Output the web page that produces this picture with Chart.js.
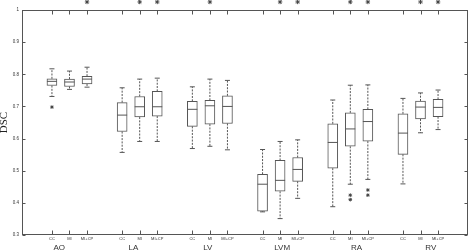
<!DOCTYPE html>
<html><head><meta charset="utf-8">
<script src="https://cdn.jsdelivr.net/npm/chart.js@4.4.0/dist/chart.umd.min.js"></script>
<style>html,body{margin:0;padding:0;background:#fff;}#wrap{width:474px;height:251px;}</style>
</head><body><div id="wrap"><canvas id="c" width="474" height="251"></canvas></div>
<script>
// ---- data (box order: group by group, CC / MI / MI+CP) ----
const groups = ['AO', 'LA', 'LV', 'LVM', 'RA', 'RV'];
const methods = ['CC', 'MI', 'MI+CP'];
const whiskerLow  = [0.731,0.753,0.760, 0.557,0.591,0.591, 0.569,0.576,0.565, 0.372,0.351,0.414, 0.388,0.458,0.473, 0.459,0.618,0.628];
const q1          = [0.765,0.762,0.770, 0.622,0.667,0.670, 0.638,0.645,0.647, 0.374,0.436,0.467, 0.508,0.576,0.592, 0.551,0.661,0.668];
const median      = [0.778,0.776,0.785, 0.673,0.699,0.699, 0.691,0.702,0.700, 0.458,0.470,0.504, 0.588,0.630,0.653, 0.617,0.698,0.697];
const q3          = [0.786,0.785,0.794, 0.712,0.731,0.747, 0.716,0.719,0.733, 0.489,0.532,0.541, 0.646,0.680,0.691, 0.677,0.717,0.722];
const whiskerHigh = [0.817,0.810,0.822, 0.758,0.785,0.788, 0.761,0.785,0.781, 0.566,0.591,0.596, 0.720,0.766,0.767, 0.725,0.742,0.751];
const outlierBox   = [0, 13, 13, 14, 14];
const outlierValue = [0.698, 0.424, 0.410, 0.440, 0.424];
const significantBoxes = [2, 4, 5, 7, 10, 11, 13, 14, 16, 17];
const yTickValues = [0.3, 0.4, 0.5, 0.6, 0.7, 0.8, 0.9, 1.0];
const markerLevel = 1.025;

// ---- derived ----
const boxPos = groups.flatMap((g, gi) => methods.map((m, mi) => gi * 4 + mi));
const groupPos = groups.map((g, gi) => gi * 4 + 1);
const lineColor = '#555';
const textColor = '#333';
const sans = "'Liberation Sans', Arial, sans-serif";

const whiskerData = [];
boxPos.forEach((p, i) => {
  whiskerData.push({x: p, y: q3[i]}, {x: p, y: whiskerHigh[i]}, {x: p, y: null});
  whiskerData.push({x: p, y: q1[i]}, {x: p, y: whiskerLow[i]}, {x: p, y: null});
});
const capData = boxPos.flatMap((p, i) => [{x: p, y: whiskerHigh[i]}, {x: p, y: whiskerLow[i]}]);

const framePlugin = {
  id: 'frame',
  afterDatasetsDraw(chart) {
    const {ctx, chartArea: a, scales: {x, y}} = chart;
    ctx.save();
    ctx.strokeStyle = lineColor;
    ctx.lineWidth = 1;
    const L = Math.round(a.left) + 0.5, R = Math.round(a.right) - 0.5;
    const T = Math.round(a.top) + 0.5, B = Math.round(a.bottom) - 0.5;
    ctx.strokeRect(L, T, R - L, B - T);
    ctx.beginPath();
    yTickValues.forEach(v => {
      const py = Math.round(y.getPixelForValue(v)) + 0.5;
      ctx.moveTo(L, py); ctx.lineTo(L + 3, py);
      ctx.moveTo(R, py); ctx.lineTo(R - 3, py);
    });
    boxPos.forEach(p => {
      const px = Math.round(x.getPixelForValue(p)) + 0.5;
      ctx.moveTo(px, B); ctx.lineTo(px, B - 4);
      ctx.moveTo(px, T); ctx.lineTo(px, T + 4);
    });
    ctx.stroke();
    // significance markers above the frame
    ctx.strokeStyle = '#444';
    ctx.fillStyle = '#444';
    significantBoxes.forEach(b => {
      Chart.helpers.drawPoint(ctx, {pointStyle: 'star', radius: 2.2, borderWidth: 1, rotation: 0},
        x.getPixelForValue(boxPos[b]), y.getPixelForValue(markerLevel));
    });
    ctx.restore();
  }
};

new Chart(document.getElementById('c'), {
  type: 'scatter',
  data: {
    datasets: [
      {
        type: 'bar',
        data: boxPos.map((p, i) => ({x: p, y: [q1[i], q3[i]]})),
        backgroundColor: '#ffffff',
        borderColor: lineColor,
        borderWidth: 1,
        borderSkipped: false,
        barThickness: 10,
        order: 3
      },
      {
        data: whiskerData,
        showLine: true,
        spanGaps: false,
        borderColor: lineColor,
        borderWidth: 1,
        borderDash: [2, 1.3],
        pointRadius: 0,
        order: 4
      },
      {
        data: capData,
        pointStyle: 'line',
        pointRadius: 2.5,
        pointBorderWidth: 1,
        pointBorderColor: lineColor,
        order: 2
      },
      {
        data: boxPos.map((p, i) => ({x: p, y: median[i]})),
        pointStyle: 'line',
        pointRadius: 5,
        pointBorderWidth: 1,
        pointBorderColor: lineColor,
        order: 1
      },
      {
        data: outlierBox.map((b, i) => ({x: boxPos[b], y: outlierValue[i]})),
        pointStyle: 'star',
        pointRadius: 1.8,
        pointBorderWidth: 1,
        pointBorderColor: '#444',
        pointBackgroundColor: '#444',
        order: 1
      }
    ]
  },
  options: {
    responsive: false,
    animation: false,
    devicePixelRatio: 1,
    events: [],
    layout: {padding: {left: 0, right: 1, top: 10, bottom: 0}},
    plugins: {legend: {display: false}, tooltip: {enabled: false}},
    scales: {
      x: {
        type: 'linear', min: -1, max: 23, position: 'bottom', weight: 0,
        grid: {display: false, drawTicks: false},
        border: {display: false},
        afterBuildTicks: s => { s.ticks = boxPos.map(v => ({value: v})); },
        afterFit: s => { s.height = 8; },
        ticks: {
          autoSkip: false, maxRotation: 0, padding: 1, color: textColor,
          font: {size: 4, family: sans},
          callback: v => methods[v % 4]
        }
      },
      x2: {
        type: 'linear', min: -1, max: 23, position: 'bottom', weight: 1,
        grid: {display: false, drawTicks: false},
        border: {display: false},
        afterBuildTicks: s => { s.ticks = groupPos.map(v => ({value: v})); },
        afterFit: s => { s.height = 8; },
        ticks: {
          autoSkip: false, maxRotation: 0, padding: 0, color: textColor,
          font: {size: 8, family: sans},
          callback: v => groups[(v - 1) / 4]
        }
      },
      y: {
        type: 'linear', min: 0.3, max: 1.0, position: 'left',
        grid: {display: false, drawTicks: false},
        border: {display: false},
        afterBuildTicks: s => { s.ticks = yTickValues.map(v => ({value: v})); },
        afterFit: s => { s.width = 22; },
        ticks: {
          padding: 3, color: textColor,
          font: {size: 4.5, family: sans},
          callback: v => (Math.abs(v - 1) < 1e-9 ? '1' : v.toFixed(1))
        },
        title: {
          display: true, text: 'DSC', color: '#222', padding: 0,
          font: {size: 11, family: "'Liberation Serif', 'Times New Roman', serif", lineHeight: 0.8}
        }
      }
    }
  },
  plugins: [framePlugin]
});
</script>
</body></html>
